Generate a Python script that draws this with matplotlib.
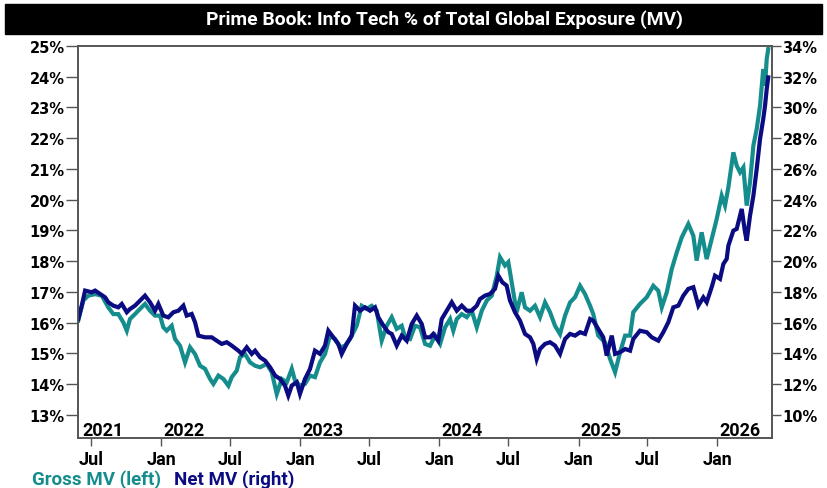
import numpy as np
import matplotlib
matplotlib.use('Agg')
import matplotlib.pyplot as plt
import matplotlib.dates as mdates
import matplotlib.transforms as mtransforms
from matplotlib.patches import Rectangle
from datetime import datetime

#gross MV share (left axis, %), time as decimal year
gross_t = [
    2021.401, 2021.437, 2021.473, 2021.522, 2021.570, 2021.617, 2021.653, 2021.689, 2021.725, 2021.750,
    2021.773, 2021.809, 2021.845, 2021.881, 2021.917, 2021.953, 2021.989, 2022.013, 2022.037, 2022.073,
    2022.097, 2022.133, 2022.169, 2022.205, 2022.241, 2022.277, 2022.313, 2022.349, 2022.373, 2022.409,
    2022.445, 2022.481, 2022.505, 2022.541, 2022.565, 2022.601, 2022.637,
    2022.673, 2022.709, 2022.757, 2022.793, 2022.829, 2022.865, 2022.901, 2022.937, 2022.960, 2022.996,
    2023.032, 2023.068, 2023.104, 2023.140, 2023.176, 2023.212, 2023.248, 2023.284, 2023.320, 2023.356,
    2023.404, 2023.440, 2023.476, 2023.512, 2023.548, 2023.584, 2023.620, 2023.656, 2023.692, 2023.728,
    2023.752, 2023.788, 2023.824, 2023.860, 2023.896,
    2023.932, 2023.968, 2024.004, 2024.040, 2024.076, 2024.099, 2024.124, 2024.160, 2024.196, 2024.232,
    2024.268, 2024.304, 2024.340, 2024.376, 2024.412, 2024.435, 2024.471, 2024.495, 2024.519, 2024.555,
    2024.591, 2024.615, 2024.651, 2024.687, 2024.723, 2024.759, 2024.795, 2024.831, 2024.867, 2024.903,
    2024.939, 2024.975, 2025.011, 2025.047, 2025.083, 2025.106, 2025.142,
    2025.191, 2025.227, 2025.263, 2025.299, 2025.335, 2025.371, 2025.394, 2025.442, 2025.491, 2025.538,
    2025.574, 2025.599, 2025.635, 2025.671, 2025.707, 2025.743, 2025.790, 2025.826, 2025.850, 2025.886,
    2025.922, 2025.958, 2025.994, 2026.030, 2026.054, 2026.078, 2026.114, 2026.138, 2026.162, 2026.186,
    2026.210, 2026.234, 2026.258, 2026.282, 2026.306, 2026.329, 2026.342, 2026.354, 2026.365,
]
gross_pct = [
    16.07, 16.72, 16.88, 16.93, 16.88, 16.50, 16.28, 16.28, 16.01, 15.74,
    16.12, 16.28, 16.45, 16.61, 16.39, 16.23, 16.23, 15.85, 15.74, 15.90,
    15.47, 15.25, 14.71, 15.20, 14.98, 14.60, 14.50, 14.17, 14.01, 14.28,
    14.17, 13.95, 14.23, 14.44, 14.88, 14.98, 14.71,
    14.60, 14.55, 14.66, 14.39, 13.68, 14.17, 14.06, 14.50, 14.12, 13.95,
    14.01, 14.28, 14.23, 14.71, 14.98, 15.58, 15.47, 15.20, 15.25, 15.47,
    15.90, 16.55, 16.45, 16.55, 16.39, 15.42, 15.90, 16.18, 15.80, 15.90,
    15.53, 15.47, 15.90, 15.85, 15.31,
    15.25, 15.58, 15.31, 15.85, 16.12, 15.74, 16.12, 16.28, 16.18, 16.39,
    15.85, 16.39, 16.72, 16.88, 17.53, 18.13, 17.86, 17.97, 17.32, 16.34,
    16.99, 16.50, 16.39, 16.55, 16.18, 16.66, 16.34, 15.90, 15.63, 16.23,
    16.66, 16.83, 17.20, 16.93, 16.55, 16.28, 15.58,
    15.36, 14.82, 14.39, 15.04, 15.58, 15.58, 16.34, 16.61, 16.83, 17.20,
    17.04, 16.50, 16.99, 17.75, 18.29, 18.78, 19.21, 18.83, 18.02, 18.94,
    18.07, 18.72, 19.37, 20.13, 19.81, 20.40, 21.54, 21.11, 20.89, 21.05,
    19.81, 20.57, 21.76, 22.30, 23.06, 24.25, 23.71, 24.58, 24.90,
]

#net MV share (right axis, %)
net_t = [
    2021.401, 2021.426, 2021.450, 2021.498, 2021.522, 2021.558, 2021.594, 2021.617, 2021.653, 2021.689,
    2021.714, 2021.750, 2021.773, 2021.809, 2021.845, 2021.881, 2021.917, 2021.953, 2021.977, 2022.013,
    2022.049, 2022.085, 2022.121, 2022.157, 2022.181, 2022.217, 2022.241, 2022.265, 2022.313, 2022.361,
    2022.397, 2022.433, 2022.469, 2022.505, 2022.553, 2022.577, 2022.613, 2022.649,
    2022.673, 2022.709, 2022.745, 2022.781, 2022.817, 2022.853, 2022.888, 2022.912, 2022.937, 2022.973,
    2022.996, 2023.032, 2023.068, 2023.104, 2023.140, 2023.176, 2023.200, 2023.236, 2023.272, 2023.296,
    2023.332, 2023.368, 2023.392, 2023.428, 2023.464, 2023.500, 2023.536, 2023.560, 2023.596, 2023.632,
    2023.656, 2023.692, 2023.728, 2023.764, 2023.800, 2023.836, 2023.872, 2023.896,
    2023.932, 2023.955, 2023.991, 2024.016, 2024.052, 2024.088, 2024.124, 2024.160, 2024.196, 2024.232,
    2024.268, 2024.291, 2024.327, 2024.363, 2024.399, 2024.423, 2024.452, 2024.483, 2024.507, 2024.543,
    2024.579, 2024.615, 2024.651, 2024.675, 2024.699, 2024.723, 2024.759, 2024.795, 2024.831, 2024.867,
    2024.903, 2024.939, 2024.975, 2025.011, 2025.047, 2025.083, 2025.106, 2025.142,
    2025.178, 2025.203, 2025.239, 2025.263, 2025.299, 2025.335, 2025.371, 2025.394, 2025.442, 2025.491,
    2025.527, 2025.574, 2025.610, 2025.646, 2025.682, 2025.718, 2025.754, 2025.790, 2025.826, 2025.862,
    2025.898, 2025.922, 2025.958, 2025.982, 2026.018, 2026.042, 2026.066, 2026.078, 2026.114, 2026.138,
    2026.174, 2026.198, 2026.210, 2026.234, 2026.258, 2026.282, 2026.306, 2026.329, 2026.342, 2026.354,
    2026.365,
]
net_pct = [
    16.24, 17.11, 18.09, 17.98, 18.09, 17.87, 17.65, 17.33, 17.11, 17.00,
    17.22, 16.68, 16.89, 17.11, 17.44, 17.76, 17.33, 16.78, 17.22, 16.46,
    16.35, 16.68, 16.78, 17.11, 16.46, 16.57, 16.03, 15.16, 15.05, 15.05,
    14.83, 14.62, 14.73, 14.51, 14.18, 13.97, 14.40, 13.97,
    14.18, 13.75, 13.53, 13.10, 12.56, 12.34, 11.91, 11.26, 11.91, 12.13,
    11.37, 12.34, 12.99, 14.18, 13.97, 14.51, 15.48, 15.05, 14.62, 13.97,
    14.62, 15.16, 17.11, 16.78, 17.00, 16.78, 17.00, 16.35, 15.81, 15.38,
    15.27, 14.51, 15.16, 14.83, 15.92, 16.46, 15.92, 15.05,
    15.05, 15.27, 14.83, 16.24, 16.78, 17.33, 16.78, 17.11, 16.78, 16.78,
    17.11, 17.54, 17.76, 17.87, 18.20, 19.06, 18.63, 18.41, 17.44, 16.68,
    16.13, 15.27, 15.05, 14.62, 13.64, 14.29, 14.62, 14.73, 14.51, 13.97,
    14.94, 15.27, 15.16, 15.38, 15.27, 16.24, 16.13, 15.59,
    15.05, 13.86, 15.16, 13.97, 14.08, 14.29, 14.18, 14.94, 15.48, 15.38,
    15.05, 14.83, 15.38, 16.03, 17.00, 17.11, 17.76, 18.20, 18.31, 17.11,
    17.65, 17.33, 18.31, 19.06, 18.85, 19.82, 20.15, 21.01, 21.99, 22.10,
    23.40, 21.88, 21.34, 22.96, 24.26, 26.00, 27.95, 29.25, 30.12, 31.20,
    31.96,
]

left_ticks = list(range(13, 26))
right_ticks = list(range(10, 35, 2))
year_labels = [2022, 2023, 2024, 2025, 2026]

title = 'Prime Book: Info Tech % of Total Global Exposure (MV)'
teal = '#168d8d'
navy = '#0b0b82'
frame = '#555555'

plt.rcParams['font.family'] = ['Roboto', 'DejaVu Sans']
plt.rcParams['font.weight'] = 'bold'

def to_num(t):
    t = np.asarray(t)
    return mdates.date2num(datetime(2021, 1, 1)) + (t - 2021) * 365.25

fig = plt.figure(figsize=(8.27, 4.89), dpi=100)
ax = fig.add_axes([78/827, 50/489, 694/827, 392/489])
ax2 = ax.twinx()

ax.plot(to_num(gross_t), gross_pct, color=teal, lw=3.0, solid_joinstyle='miter')
ax2.plot(to_num(net_t), net_pct, color=navy, lw=3.0, solid_joinstyle='miter')

ax.set_xlim(to_num(2021.399), to_num(2026.392))
ax.set_ylim(12.25, 25.0)
ax2.set_ylim(8.5, 34.0)

ax.set_yticks(left_ticks)
ax.set_yticklabels([f'{v}%' for v in left_ticks], family='DejaVu Sans', fontsize=10.5, weight='bold')
ax2.set_yticks(right_ticks)
ax2.set_yticklabels([f'{v}%' for v in right_ticks], family='DejaVu Sans', fontsize=10.5, weight='bold')

ax.xaxis.set_major_locator(mdates.MonthLocator(bymonth=[1, 7]))
ax.xaxis.set_major_formatter(mdates.DateFormatter('%b'))

ax.tick_params(axis='x', direction='out', length=6, width=1, color=frame, pad=3, labelsize=13)
ax.tick_params(axis='y', direction='out', length=8.5, width=1, color=frame, pad=1)
ax2.tick_params(axis='y', direction='out', length=6.5, width=1, color=frame, pad=1)

for a in (ax, ax2):
    for sp in a.spines.values():
        sp.set_color(frame)
        sp.set_linewidth(1.2)

#year labels inside the plot
trans = mtransforms.blended_transform_factory(ax.transData, ax.transAxes)
offset = mtransforms.ScaledTranslation(2/100, 0, fig.dpi_scale_trans)
for yr in year_labels:
    ax.text(to_num(yr), 0.008, str(yr), transform=trans + offset, ha='left', va='baseline', fontsize=13, weight='bold')
ax.text(0.006, 0.008, '2021', transform=ax.transAxes, ha='left', va='baseline', fontsize=13, weight='bold')

#title bar
fig.add_artist(Rectangle((5/827, 454/489), 817/827, 30/489, transform=fig.transFigure, color='black'))
fig.text(444.5/827, 469/489, title, color='white', ha='center', va='center', fontsize=13.9, weight='bold')

#legend as coloured text
fig.text(32/827, 4/489, 'Gross MV (left)', color=teal, fontsize=13.5, weight='bold', ha='left', va='baseline')
fig.text(174/827, 4/489, 'Net MV (right)', color=navy, fontsize=13.5, weight='bold', ha='left', va='baseline')

fig.savefig('out.png', dpi=100)
